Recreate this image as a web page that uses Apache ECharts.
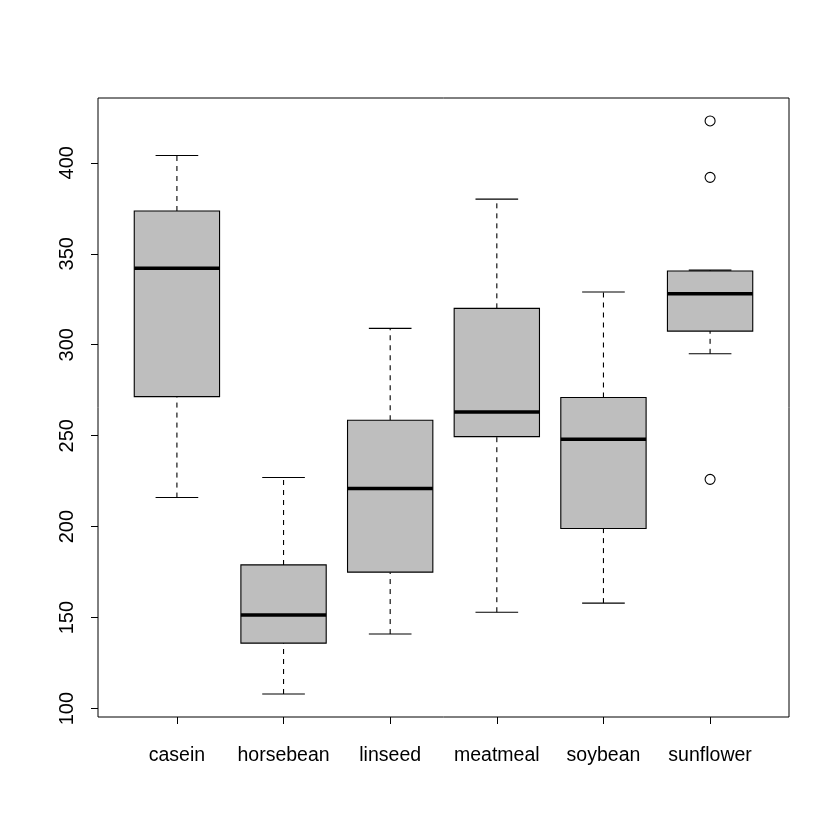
<!DOCTYPE html>
<html>
<head>
<meta charset="utf-8">
<script src="https://cdn.jsdelivr.net/npm/echarts@6/dist/echarts.min.js"></script>
<style>html,body{margin:0;padding:0;background:#fff;}#c{width:840px;height:840px;}</style>
</head>
<body>
<div id="c"></div>
<script>
const categories = ['casein', 'horsebean', 'linseed', 'meatmeal', 'soybean', 'sunflower'];
// five-number summaries: [lower whisker, lower hinge, median, upper hinge, upper whisker]
const whiskerLow = [216, 108, 141, 153, 158, 295];
const hingeLow   = [271.5, 136, 175, 249.5, 199, 307.5];
const medians    = [342, 151.5, 221, 263, 248, 328];
const hingeHigh  = [373.5, 179, 258.5, 320, 271, 340.5];
const whiskerHigh= [404, 227, 309, 380, 329, 341];
const outliers   = [[6, 226], [6, 392], [6, 423]];
const yTicks = [100, 150, 200, 250, 300, 350, 400];

const boxData = categories.map((c, i) => [i + 1, whiskerLow[i], hingeLow[i], medians[i], hingeHigh[i], whiskerHigh[i]]);

const chart = echarts.init(document.getElementById('c'), null, {renderer: 'canvas'});
const font = 'Liberation Sans, Arial, sans-serif';

function renderItem(params, api) {
  const x = api.value(0);
  const halfBox = 0.4, halfCap = 0.2;
  const p = (xx, yy) => api.coord([xx, yy]);
  const lo = p(x, api.value(1)), q1 = p(x, api.value(2)), md = p(x, api.value(3)), q3 = p(x, api.value(4)), hi = p(x, api.value(5));
  const bl = p(x - halfBox, 200)[0], br = p(x + halfBox, 200)[0];
  const cl = p(x - halfCap, 200)[0], cr = p(x + halfCap, 200)[0];
  const dash = {stroke: '#000', lineWidth: 1.1, lineDash: [5, 5]};
  const solid = {stroke: '#000', lineWidth: 1.1};
  return {
    type: 'group',
    children: [
      {type: 'line', shape: {x1: lo[0], y1: lo[1], x2: q1[0], y2: q1[1]}, style: dash},
      {type: 'line', shape: {x1: q3[0], y1: q3[1], x2: hi[0], y2: hi[1]}, style: dash},
      {type: 'line', shape: {x1: cl, y1: lo[1], x2: cr, y2: lo[1]}, style: solid},
      {type: 'line', shape: {x1: cl, y1: hi[1], x2: cr, y2: hi[1]}, style: solid},
      {type: 'rect', shape: {x: bl, y: q3[1], width: br - bl, height: q1[1] - q3[1]}, style: {fill: '#BEBEBE', stroke: '#000', lineWidth: 1.1}},
      {type: 'line', shape: {x1: bl, y1: md[1], x2: br, y2: md[1]}, style: {stroke: '#000', lineWidth: 3.5}}
    ]
  };
}

chart.setOption({
  animation: false,
  backgroundColor: '#fff',
  grid: {left: 98, right: 51, top: 98, bottom: 123, show: true, borderColor: '#000', borderWidth: 1, backgroundColor: 'transparent'},
  xAxis: {
    type: 'value', min: 0.26, max: 6.74,
    splitLine: {show: false},
    axisLine: {show: false},
    axisTick: {show: true, length: 7, lineStyle: {color: '#000', width: 1}, customValues: [1, 2, 3, 4, 5, 6]},
    axisLabel: {
      customValues: [1, 2, 3, 4, 5, 6],
      formatter: v => categories[Math.round(v) - 1] || '',
      color: '#000', fontSize: 19.5, fontFamily: font, margin: 29
    }
  },
  yAxis: {
    type: 'value', min: 95.4, max: 435.6,
    splitLine: {show: false},
    axisLine: {show: false},
    axisTick: {show: true, length: 7, lineStyle: {color: '#000', width: 1}, customValues: yTicks},
    axisLabel: {
      customValues: yTicks, rotate: 90, color: '#000', fontSize: 20, fontFamily: font, margin: 31,
      verticalAlign: 'middle', align: 'center'
    }
  },
  series: [
    {type: 'custom', renderItem: renderItem, data: boxData, encode: {x: 0, y: [1, 2, 3, 4, 5]}, clip: false, z: 2},
    {type: 'scatter', data: outliers, symbol: 'circle', symbolSize: 10, z: 5,
     itemStyle: {color: '#fff', borderColor: '#000', borderWidth: 1.1, opacity: 1}}
  ]
});
</script>
</body>
</html>
